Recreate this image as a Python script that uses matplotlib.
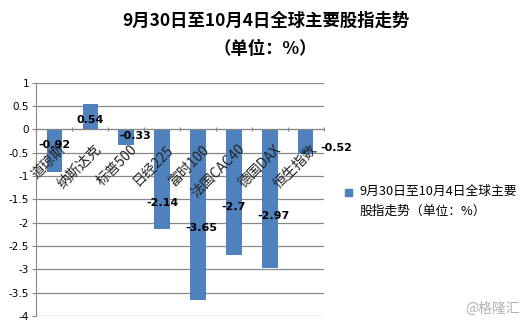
import numpy as np
import matplotlib.pyplot as plt

plt.rcParams['font.family'] = ['Noto Sans CJK SC', 'DejaVu Sans']

categories = ['道琼斯', '纳斯达克', '标普500', '日经225', '富时100', '法国CAC40', '德国DAX', '恒生指数']
values = [-0.92, 0.54, -0.33, -2.14, -3.65, -2.7, -2.97, -0.52]
# where each data label was left in the original (data units)
label_y = [-0.34, 0.21, -0.15, -1.57, -2.12, -1.67, -1.85, -0.39]
label_dx = [0.0, 0.0, 0.25, 0.0, 0.1, 0.0, 0.1, 0.85]
series_name = ['9月30日至10月4日全球主要', '股指走势（单位：%）']
yticks = [1, 0.5, 0, -0.5, -1, -1.5, -2, -2.5, -3, -3.5, -4]

blue = '#4F81BD'
grid = '#888888'

fig = plt.figure(figsize=(5.31, 3.25), dpi=100)
ax = fig.add_axes([0.068, 0.028, 0.542, 0.717])

x = np.arange(len(categories))
ax.bar(x, values, width=0.42, color=blue, zorder=2)
ax.set_xlim(-0.5, len(categories) - 0.5)
ax.set_ylim(-4, 1)

ax.set_yticks(yticks)
ax.set_yticklabels([('%g' % t) for t in yticks], fontsize=7.5, family='DejaVu Sans')
ax.yaxis.grid(True, color=grid, linewidth=0.9, zorder=0)
ax.tick_params(axis='y', length=3, color=grid, pad=2)

for s in ['top', 'right']:
    ax.spines[s].set_visible(False)
ax.spines['left'].set_color(grid)
ax.spines['bottom'].set_position(('data', 0))
ax.spines['bottom'].set_color(grid)
ax.spines['bottom'].set_zorder(3)

# category boundaries get the small ticks, names are drawn as text on top
ax.set_xticks(np.arange(len(categories) + 1) - 0.5)
ax.set_xticklabels([])
ax.tick_params(axis='x', length=3, color=grid, direction='inout')

for i, name in enumerate(categories):
    ax.annotate(name, (i, 0), xytext=(3, -9), textcoords='offset points',
                rotation=45, ha='right', va='top', rotation_mode='anchor',
                fontsize=10, color='#222222', zorder=5)

for i, v in enumerate(values):
    ax.text(i + label_dx[i], label_y[i], '%g' % v, ha='center', va='center',
            fontsize=8, fontweight='bold', color='black', zorder=6,
            family='DejaVu Sans', clip_on=False)

fig.text(0.5, 0.935, '9月30日至10月4日全球主要股指走势', ha='center', va='center',
         fontsize=12.5, fontweight='bold')
fig.text(0.5, 0.85, '（单位：%）', ha='center', va='center',
         fontsize=12.5, fontweight='bold')

# legend
fig.patches.append(plt.Rectangle((0.65, 0.397), 0.013, 0.022, color=blue,
                                 transform=fig.transFigure, figure=fig))
fig.text(0.677, 0.41, series_name[0], ha='left', va='center', fontsize=9.2)
fig.text(0.677, 0.35, series_name[1], ha='left', va='center', fontsize=9.2)

fig.text(0.98, 0.05, '@格隆汇', ha='right', va='center', fontsize=10, color='#b0b0b0')

plt.savefig('out.png', dpi=100)
